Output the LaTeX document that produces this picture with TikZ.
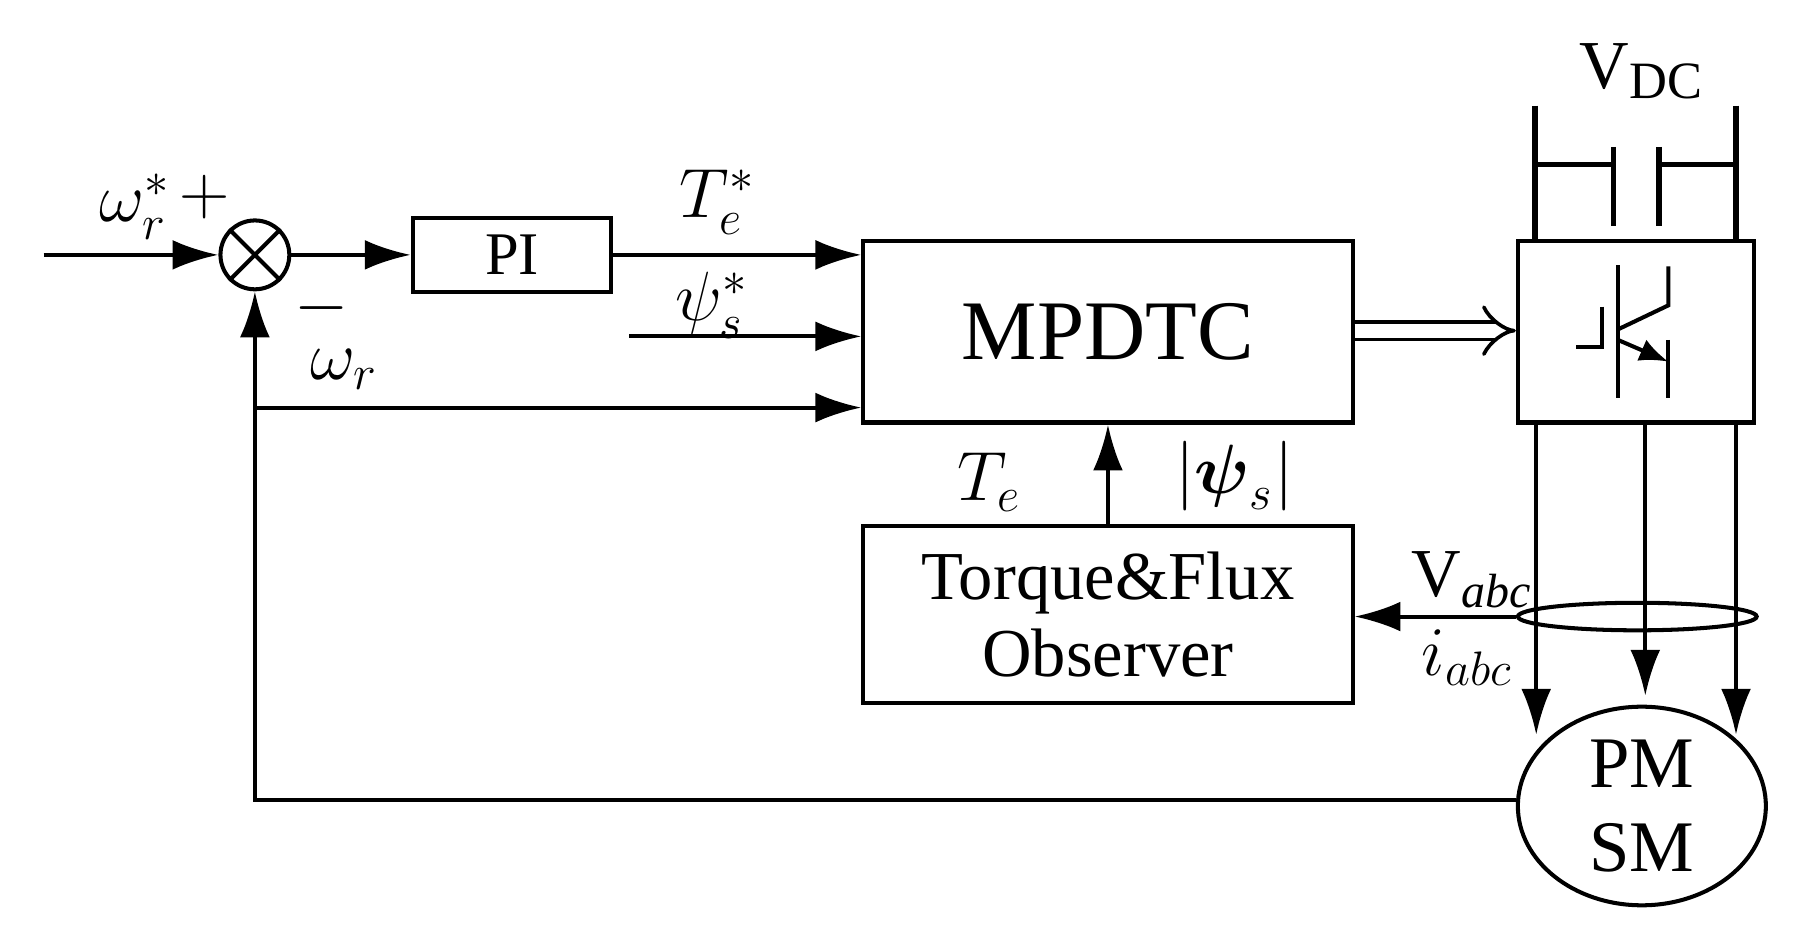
\documentclass[tikz,border=0pt]{standalone}
\usepackage{amsmath,amssymb}
\usepackage{fontspec}
\setmainfont{Liberation Serif}
\usetikzlibrary{arrows.meta,shapes.geometric}
\tikzset{
  blk/.style={draw=black,line width=1pt,inner sep=0pt},
  sig/.style={line width=1pt,-{Latex[length=4mm,width=2.6mm]}},
  wire/.style={line width=1pt},
  lbl/.style={font=\fontsize{17}{18}\selectfont}
}
\begin{document}
\begin{tikzpicture}[x=0.1mm,y=-0.1mm]
  \useasboundingbox (0,0) rectangle (1566,826);
  % blocks
  \node[blk,circle,minimum size=6mm] (sum) at (222,222) {};
  \draw[wire] (sum.north west) -- (sum.south east) (sum.north east) -- (sum.south west);
  \node[blk,minimum width=17.3mm,minimum height=6.5mm,font=\fontsize{15}{16}\selectfont] (pi) at (446,222) {PI};
  \node[blk,minimum width=42.6mm,minimum height=15.8mm,font=\fontsize{21}{22}\selectfont] (mpdtc) at (965,289) {MPDTC};
  \node[blk,minimum width=42.6mm,minimum height=15.4mm,align=center,font=\fontsize{17}{19}\selectfont] (obs) at (965,535) {Torque\&Flux\\Observer};
  \node[blk,minimum width=20.6mm,minimum height=15.8mm] (inv) at (1425,289) {};
  \node[blk,ellipse,minimum width=21.6mm,minimum height=17.3mm,align=center,font=\fontsize{18}{21}\selectfont] (pmsm) at (1430,702) {PM\\SM};
  \coordinate (in) at (38,222);
  \coordinate (psi) at (548,293);
  \coordinate (fb) at (222,697);
  \coordinate (wr) at (222,355);
  % signal paths
  \draw[sig] (in) -- (sum);
  \draw[sig] (sum) -- (pi);
  \draw[sig] (pi.east) -- (pi.east -| mpdtc.west);
  \draw[sig] (psi) -- (psi -| mpdtc.west);
  \draw[sig] (wr) -- (wr -| mpdtc.west);
  \draw[sig] (pmsm.west |- fb) -- (fb) -- (sum.south);
  \draw[sig] (obs.north) -- (mpdtc.south);
  \draw[line width=0.9pt,double distance=3.5pt,-{Implies[length=3mm]}] (mpdtc.east |- 0,288) -- (inv.west |- 0,288);
  % DC link
  \coordinate (dcl) at (1337,92);
  \coordinate (dcr) at (1512,92);
  \draw[wire,line width=1.3pt] (dcl) -- (dcl |- inv.north) (dcr) -- (dcr |- inv.north);
  \draw[wire,line width=1.3pt] (1337,143) -- (1405,143) (1405,128) -- (1405,197)
        (1445,128) -- (1445,197) (1445,143) -- (1512,143);
  \node[lbl] (vdc) at (1430,62) {V\textsubscript{\fontsize{13}{14}\selectfont DC}};
  % switch symbol
  \draw[wire] (1409,231) -- (1409,347);
  \draw[wire] (1395,267) -- (1395,302) -- (1373,302);
  \draw[wire] (1453,232) -- (1453,266) -- (1409,287);
  \draw[wire,-{Latex[length=2.5mm,width=2mm]}] (1409,296) -- (1453,315);
  \draw[wire] (1453,296) -- (1453,347);
  % phases
  \draw[sig] (1338,368) -- (1338,640);
  \draw[sig] (1433,368) -- (1433,606);
  \draw[sig] (1512,368) -- (1512,640);
  \node[draw,ellipse,line width=1pt,minimum width=20.8mm,minimum height=2.4mm,inner sep=0pt] (ct) at (1426,537) {};
  \draw[sig] (ct.west) -- (ct.west -| obs.east);
  % labels
  \node[lbl] at (118,180) {$\omega_r^*$};
  \node[lbl] at (178,172) {$+$};
  \node[lbl] at (280,268) {$-$};
  \node[lbl] at (625,176) {$T_e^*$};
  \node[lbl] at (620,266) {$\psi_s^*$};
  \node[lbl] at (300,322) {$\omega_r$};
  \node[lbl] at (862,420) {$T_e$};
  \node[lbl] at (1075,415) {$|\boldsymbol{\psi}_s|$};
  \node[lbl] at (1282,505) {V\textsubscript{\itshape abc}};
  \node[lbl] at (1278,573) {$i_{abc}$};
\end{tikzpicture}
\end{document}
